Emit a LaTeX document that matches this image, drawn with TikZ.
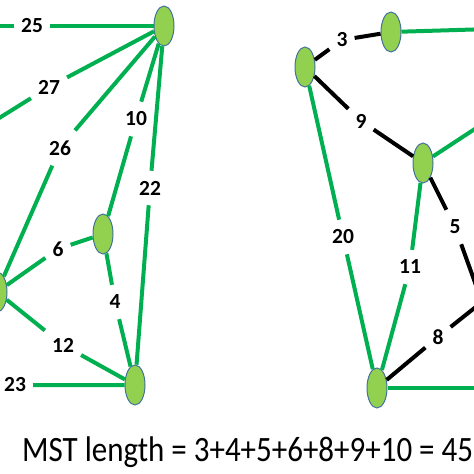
\documentclass[tikz,border=0pt]{standalone}
\usepackage{fontspec}
\setmainfont{Carlito}
\usetikzlibrary{shapes.geometric}
\definecolor{edgegreen}{RGB}{0,176,80}
\definecolor{nodefill}{RGB}{146,208,80}
\definecolor{nodeline}{RGB}{65,113,156}
\begin{document}
\begin{tikzpicture}[x=1pt, y=-1pt, main/.style = {draw=nodeline, line width=1pt, fill=nodefill, ellipse, minimum width=20pt, minimum height=40pt, inner sep=0pt}, w/.style = {font=\fontsize{21.5}{21.5}\selectfont\bfseries, inner xsep=7pt, inner ysep=10pt}, g/.style = {draw=edgegreen, line width=4pt}, k/.style = {draw=black, line width=4pt}]
    \useasboundingbox (0,0) rectangle (474,474);
    % left graph
    \node[main] (a) at (164,26) {};
    \node[main] (b) at (103,234) {};
    \node[main] (c) at (-3,292) {};
    \node[main] (d) at (135,385) {};
    \coordinate (o25) at (-20,26);
    \coordinate (o27) at (-20,130);
    \coordinate (o23) at (-20,384);
    \node[w] (l25) at (32,26) {25};
    \node[w] (l27) at (49,87) {27};
    \node[w] (l26) at (60,148) {26};
    \node[w] (l10) at (136,119) {10};
    \node[w] (l22) at (150,188) {22};
    \node[w] (l6) at (58,249) {6};
    \node[w] (l4) at (115,302) {4};
    \node[w] (l12) at (63,345) {12};
    \node[w] (l23) at (15,385) {23};
    \draw[g] (a) -- (l25) -- (o25);
    \draw[g] (a) -- (l27) -- (o27);
    \draw[g] (a) -- (l26) -- (c);
    \draw[g] (a) -- (l10) -- (b);
    \draw[g] (a) -- (l22) -- (d);
    \draw[g] (c) -- (l6) -- (b);
    \draw[g] (b) -- (l4) -- (d);
    \draw[g] (c) -- (l12) -- (d);
    \draw[g] (d) -- (l23) -- (o23);
    % right graph
    \node[main] (e) at (391,32) {};
    \node[main] (f) at (305,67) {};
    \node[main] (g) at (423,163) {};
    \node[main] (h) at (377,388) {};
    \coordinate (oe) at (490,29);
    \coordinate (og) at (490,119);
    \coordinate (oh) at (490,388);
    \coordinate (oi) at (482,302);
    \node[w] (l3) at (342,40) {3};
    \node[w] (l9) at (361,121) {9};
    \node[w] (l20) at (343,237) {20};
    \node[w] (l11) at (410,267) {11};
    \node[w] (l5) at (455,227) {5};
    \node[w] (l8) at (438,337) {8};
    \draw[k] (f) -- (l3) -- (e);
    \draw[g] (e) -- (oe);
    \draw[k] (f) -- (l9) -- (g);
    \draw[g] (f) -- (l20) -- (h);
    \draw[g] (g) -- (l11) -- (h);
    \draw[g] (g) -- (og);
    \draw[k] (g) -- (l5) -- (oi);
    \draw[k] (h) -- (l8) -- (oi);
    \draw[g] (h) -- (oh);
    \node[anchor=base west, inner sep=0pt] (mst) at (22,461) {\scalebox{1}[1.15]{\fontsize{31}{31}\selectfont MST length = 3+4+5+6+8+9+10 = 45}};
\end{tikzpicture}
\end{document}
